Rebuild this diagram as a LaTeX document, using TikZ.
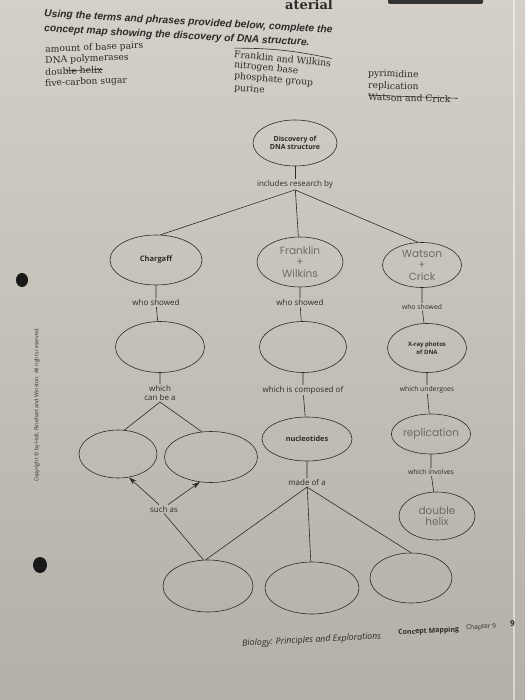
\documentclass[tikz,border=0pt]{standalone}
\usepackage{fontspec}
\setmainfont{DejaVu Serif}
\newfontfamily\mapfont{Open Sans}
\newfontfamily\headfont{Liberation Sans}
\newfontfamily\handfont{Poppins}
\usetikzlibrary{positioning,shapes.geometric,arrows.meta}
\definecolor{ink}{RGB}{45,43,42}
\definecolor{pencil}{RGB}{110,107,102}
\definecolor{paperhi}{RGB}{212,208,200}
\definecolor{paperlo}{RGB}{180,176,168}

\begin{document}
\begin{tikzpicture}[x=1pt, y=-1pt, color=ink, line width=.6pt,
            bubble/.style 2 args={ellipse, draw, inner sep=0pt, minimum width=#1pt, minimum height=#2pt,
                align=center, font=\mapfont\bfseries\fontsize{7}{8}\selectfont},
            link/.style={align=center, inner sep=1pt, font=\mapfont\fontsize{8}{9.5}\selectfont},
            smalllink/.style={link, font=\mapfont\fontsize{6.8}{8}\selectfont},
            hand/.style={text=pencil, font=\handfont\fontsize{10.5}{11.5}\selectfont},
            head/.style={anchor=west, inner sep=0pt, font=\headfont\bfseries\itshape\fontsize{10.3}{10.5}\selectfont},
            term/.style={anchor=west, inner sep=0pt, font=\fontsize{9.2}{9.5}\selectfont},
            foot/.style={anchor=west, inner sep=0pt, rotate=3, font=\mapfont\fontsize{8.8}{9}\selectfont}]
            \useasboundingbox (0,0) rectangle (525,700);
            \fill[top color=paperhi, bottom color=paperlo, draw=none] (0,0) rectangle (525,700);
            \fill[white, opacity=.5] (513,0) rectangle (515,700);
            \fill[black!80, rounded corners=2pt] (388,-3) rectangle (483,4);
            \fill[black!90] (22,280) ellipse (6pt and 7pt);
            \fill[black!90] (40,565) ellipse (7pt and 8pt);

            \node[inner sep=0pt, font=\bfseries\fontsize{13}{13}\selectfont] (mat) at (309,5) {aterial};
            \node[head, rotate=-3.3] (intro1) at (44,14) {Using the terms and phrases provided below, complete the};
            \node[head, rotate=-3] (intro2) at (44,29) {concept map showing the discovery of DNA structure.};

            \node[term, rotate=2.5] (w1) at (45,50) {amount of base pairs};
            \node[term, rotate=2.5] (w2) at (45,61) {DNA polymerases};
            \node[term, rotate=2.5] (w3) at (45,72) {double helix};
            \node[term, rotate=2.5] (w4) at (45,84) {five-carbon sugar};
            \node[term, rotate=-5.5] (w5) at (234,54) {Franklin and Wilkins};
            \node[term, rotate=-5.5] (w6) at (234,65) {nitrogen base};
            \node[term, rotate=-5.5] (w7) at (234,76) {phosphate group};
            \node[term, rotate=-5.5] (w8) at (234,88) {purine};
            \node[term, rotate=-1.5] (w9) at (368,74) {pyrimidine};
            \node[term, rotate=-1.5] (w10) at (368,86) {replication};
            \node[term, rotate=-1.5] (w11) at (368,97) {Watson and Crick};
            \draw ([xshift=-8pt]w3.center) -- (w3.east);
            \draw ([yshift=2pt]w5.north west) to[bend left=6] ([yshift=1pt]w5.north east);
            \draw ([yshift=-2pt]w11.north west) -- ([xshift=7pt,yshift=-3pt]w11.north east);

            \node[bubble={84}{46}] (disc) at (295,143) {Discovery of\\DNA structure};
            \node[bubble={92}{50}, font=\mapfont\bfseries\fontsize{7.5}{8}\selectfont] (charg) at (156,260) {Chargaff};
            \node[bubble={86}{50}, hand] (frank) at (300,262) {Franklin\\+\\Wilkins};
            \node[bubble={79}{45}, hand] (watson) at (422,265) {Watson\\+\\Crick};
            \node[bubble={89}{51}] (blank1) at (160,347) {};
            \node[bubble={87}{51}] (blank2) at (303,347) {};
            \node[bubble={79}{49}, font=\mapfont\bfseries\fontsize{6}{7.5}\selectfont] (xray) at (427,348) {X-ray photos\\of DNA};
            \node[bubble={78}{48}] (left1) at (118,454) {};
            \node[bubble={93}{51}] (left2) at (211,457) {};
            \node[bubble={90}{44}, font=\mapfont\bfseries\fontsize{7.3}{8}\selectfont] (nucl) at (307,439) {nucleotides};
            \node[bubble={77}{40}, hand] (repl) at (431,434) {replication};
            \node[bubble={76}{48}, hand] (helix) at (437,516) {double\\helix};
            \node[bubble={90}{52}] (bl) at (208,586) {};
            \node[bubble={94}{52}] (bm) at (312,588) {};
            \node[bubble={82}{50}] (br) at (411,578) {};

            \node[link, below=13pt of disc] (incl) {includes research by};
            \node[link, below=13pt of charg] (sh1) {who showed};
            \node[link, below=11pt of frank] (sh2) {who showed};
            \node[smalllink, below=15pt of watson] (sh3) {who showed};
            \node[link, below=11pt of blank1] (canbe) {which\\can be a};
            \node[link, below=12pt of blank2] (comp) {which is composed of};
            \node[smalllink, below=12pt of xray] (underg) {which undergoes};
            \node[link, below=17pt of nucl] (made) {made of a};
            \node[smalllink, below=14pt of repl] (involv) {which involves};
            \node[link] (such) at (164,509) {such as};

            \draw (disc) -- (incl);
            \draw (incl.south) -- (charg.80);
            \draw (incl) -- (frank);
            \draw (incl.south) -- (watson.100);
            \draw (charg) -- (sh1) -- (blank1) -- (canbe);
            \draw (frank) -- (sh2) -- (blank2) -- (comp) -- (nucl) -- (made);
            \draw (watson) -- (sh3) -- (xray) -- (underg) -- (repl) -- (involv) -- (helix);
            \draw (canbe.south) -- (left1.75);
            \draw (canbe.south) -- (left2.110);
            \draw[-{Stealth[length=8pt,width=5pt,inset=2.5pt]}] ([xshift=-5pt]such.north) -- (left1.-65);
            \draw[-{Stealth[length=8pt,width=5pt,inset=2.5pt]}] ([xshift=4pt]such.north) -- (left2.-114);
            \draw (such.south) -- (bl.100);
            \draw (made.south) -- (bl.95);
            \draw (made) -- (bm);
            \draw (made.south) -- (br.north);

            \node[rotate=90, font=\mapfont\fontsize{5.3}{5.3}\selectfont] (copy) at (37,405) {Copyright © by Holt, Rinehart and Winston. All rights reserved.};
            \node[foot] (book) at (242,644) {\itshape Biology: Principles and Explorations};
            \node[foot, font=\mapfont\bfseries\fontsize{7}{8}\selectfont] (cmap) at (398,633) {Concept Mapping};
            \node[foot, font=\mapfont\fontsize{6.5}{7}\selectfont] (chap) at (466,628) {Chapter 9};
            \node[foot, font=\mapfont\bfseries\fontsize{8}{9}\selectfont] (page) at (510,624) {9};
\end{tikzpicture}
\end{document}
